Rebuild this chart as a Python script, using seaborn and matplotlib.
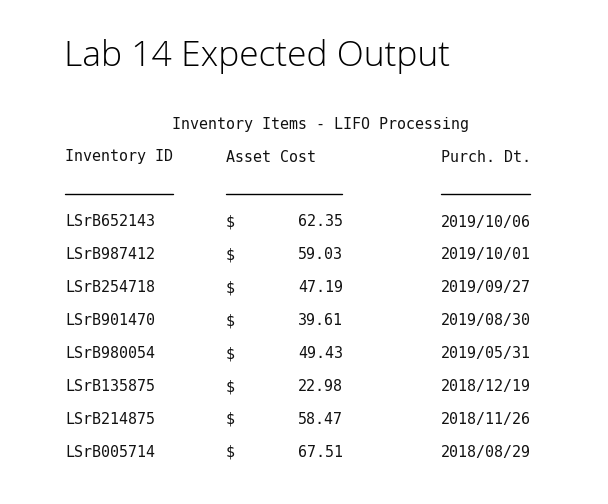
import matplotlib
matplotlib.use("Agg")
import matplotlib.pyplot as plt
import seaborn as sns

# table data
inventory_ids = ["LSrB652143", "LSrB987412", "LSrB254718", "LSrB901470",
                 "LSrB980054", "LSrB135875", "LSrB214875", "LSrB005714"]
asset_costs = [62.35, 59.03, 47.19, 39.61, 49.43, 22.98, 58.47, 67.51]
purch_dates = ["2019/10/06", "2019/10/01", "2019/09/27", "2019/08/30",
               "2019/05/31", "2018/12/19", "2018/11/26", "2018/08/29"]

sns.set_theme(style="white")
W, H = 608, 504
fig = plt.figure(figsize=(W / 100, H / 100), dpi=100)
fig.patch.set_facecolor("white")

def px(x, y):
    return x / W, 1 - y / H

mono = dict(family="DejaVu Sans Mono", fontsize=10.8, color="#111111", va="center")

fig.text(*px(64, 56), "Lab 14 Expected Output", family="Open Sans",
         fontweight="light", fontsize=25.5, va="center", color="black")
fig.text(*px(321, 125), "Inventory Items - LIFO Processing", ha="center", **mono)
fig.text(*px(65, 157), "Inventory ID", ha="left", **mono)
fig.text(*px(226, 157), "Asset Cost", ha="left", **mono)
fig.text(*px(441, 157), "Purch. Dt.", ha="left", **mono)

# underlines
for x0, x1 in [(65, 173), (226, 342), (441, 530)]:
    fig.add_artist(plt.Line2D([x0 / W, x1 / W], [1 - 194 / H] * 2,
                              color="black", lw=1))

for i, (iid, cost, dt) in enumerate(zip(inventory_ids, asset_costs, purch_dates)):
    y = 222 + i * 32.9
    fig.text(*px(65, y), iid, ha="left", **mono)
    fig.text(*px(226, y), "$", ha="left", **mono)
    fig.text(*px(343, y), f"{cost:.2f}", ha="right", **mono)
    fig.text(*px(441, y), dt, ha="left", **mono)

fig.savefig("out.png", dpi=100)
